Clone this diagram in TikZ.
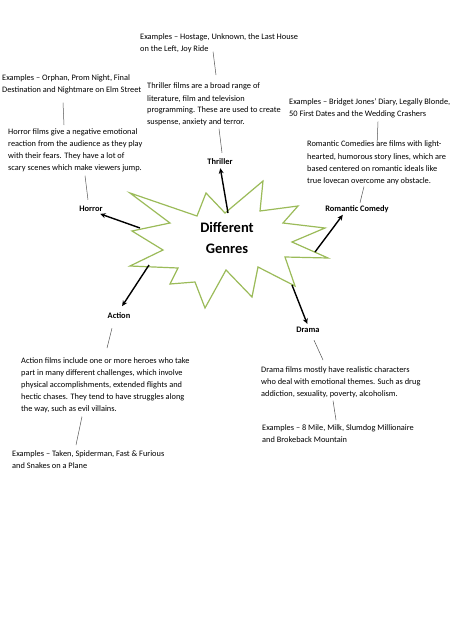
\documentclass[tikz,border=0pt]{standalone}
\usepackage{fontspec}
\setmainfont{Carlito}
\usetikzlibrary{arrows.meta,calc}
\definecolor{burstGreen}{HTML}{9BBB59}
\definecolor{linkGrey}{HTML}{555555}

\begin{document}
\begin{tikzpicture}[
    x=1pt, y=-1pt,
    note/.style={anchor=north west, align=left, inner sep=0pt, font=\fontsize{8.35}{12}\selectfont},
    genre/.style={inner sep=0pt, text height=6pt, text depth=2pt, font=\fontsize{8.4}{12}\selectfont\bfseries},
    hub/.style={align=center, inner sep=0pt, font=\fontsize{14.5}{21}\selectfont\bfseries},
    link/.style={draw=linkGrey, line width=.5pt},
    pointer/.style={draw=black, line width=1.4pt, -{Stealth[length=5.5pt,width=5pt]}, shorten >=2pt},
    burst/.style={draw=burstGreen, line width=1.2pt, fill=white}
  ]
  \useasboundingbox (0,0) rectangle (453,640);

  % the burst in the middle
  \draw[burst] (130,193) -- (197,216) -- (206,193) -- (225,213) -- (263,181) -- (260,211)
    -- (298,206) -- (283,223) -- (325,228) -- (292,242) -- (328,258) -- (285,257)
    -- (295,286) -- (258,267) -- (252,297) -- (226,270) -- (205,308) -- (195,282)
    -- (170,284) -- (178,268) -- (130,266) -- (163,250) -- (132,231) -- (170,223) -- cycle;
  \node[hub] (genres) at (227,238) {Different\\Genres};

  \coordinate (thrFoot) at (228,213);
  \coordinate (horFoot) at (140,228);
  \coordinate (romFoot) at (315,252);
  \coordinate (actFoot) at (149,265);
  \coordinate (draFoot) at (292,285);

  % genre labels
  \node[genre] (thriller) at (220,162) {Thriller};
  \node[genre] (horror)   at (91,209)  {Horror};
  \node[genre] (romance)  at (357,209) {Romantic Comedy};
  \node[genre] (action)   at (119,316) {Action};
  \node[genre] (drama)    at (308,330) {Drama};

  \draw[pointer] (thrFoot) -- (thriller.south);
  \draw[pointer] (horFoot) -- (horror.-30);
  \draw[pointer] (romFoot) -- ([xshift=-13pt]romance.south);
  \draw[pointer] (actFoot) -- ([xshift=2pt,yshift=4pt]action.north);
  \draw[pointer] (draFoot) -- (drama.north);

  % notes
  \node[note] (thrEx) at (140,34) {Examples – Hostage, Unknown, the Last House\\on the Left, Joy Ride};
  \node[note] (thrDesc) at (147,83) {Thriller films are a broad range of\\literature, film and television\\programming. These are used to create\\suspense, anxiety and terror.};
  \node[note] (horEx) at (2,75) {Examples – Orphan, Prom Night, Final\\Destination and Nightmare on Elm Street};
  \node[note] (horDesc) at (8,128) {Horror films give a negative emotional\\reaction from the audience as they play\\with their fears. They have a lot of\\scary scenes which make viewers jump.};
  \node[note] (romEx) at (289,98) {Examples – Bridget Jones' Diary, Legally Blonde,\\50 First Dates and the Wedding Crashers};
  \node[note] (romDesc) at (307,141) {Romantic Comedies are films with light-\\hearted, humorous story lines, which are\\based centered on romantic ideals like\\true lovecan overcome any obstacle.};
  \node[note] (actDesc) at (21,357) {Action films include one or more heroes who take\\part in many different challenges, which involve\\physical accomplishments, extended flights and\\hectic chases. They tend to have struggles along\\the way, such as evil villains.};
  \node[note] (actEx) at (12,450) {Examples – Taken, Spiderman, Fast \& Furious\\and Snakes on a Plane};
  \node[note] (draDesc) at (261,366) {Drama films mostly have realistic characters\\who deal with emotional themes. Such as drug\\addiction, sexuality, poverty, alcoholism.};
  \node[note] (draEx) at (262,424) {Examples – 8 Mile, Milk, Slumdog Millionaire\\and Brokeback Mountain};

  % thin links between notes and labels
  \draw[link] ([xshift=73pt,yshift=2pt]thrEx.south west) -- ([xshift=69pt,yshift=8pt]thrDesc.north west);
  \draw[link] ([xshift=72pt,yshift=-2pt]thrDesc.south west) -- ([xshift=2pt,yshift=5pt]thriller.north);
  \draw[link] ([xshift=61pt,yshift=-8pt]horEx.south west) -- ([xshift=56pt,yshift=3pt]horDesc.north west);
  \draw[link] ([xshift=77pt,yshift=-4pt]horDesc.south west) -- ([xshift=-3pt,yshift=5pt]horror.north);
  \draw[link] ([xshift=89pt,yshift=-4pt]romEx.south west) -- ([xshift=70pt,yshift=-5pt]romDesc.north west);
  \draw[link] ([xshift=57pt,yshift=-2pt]romDesc.south west) -- ([xshift=3pt,yshift=2pt]romance.north);
  \draw[link] ([xshift=-7pt,yshift=-8pt]action.south) -- ([xshift=86pt,yshift=9pt]actDesc.north west);
  \draw[link] ([xshift=61pt,yshift=-4pt]actDesc.south west) -- ([xshift=64pt,yshift=5pt]actEx.north west);
  \draw[link] ([xshift=6pt,yshift=-6pt]drama.south) -- ([xshift=62pt,yshift=6pt]draDesc.north west);
  \draw[link] ([xshift=72pt,yshift=-3pt]draDesc.south west) -- ([xshift=74pt,yshift=4pt]draEx.north west);
\end{tikzpicture}
\end{document}
